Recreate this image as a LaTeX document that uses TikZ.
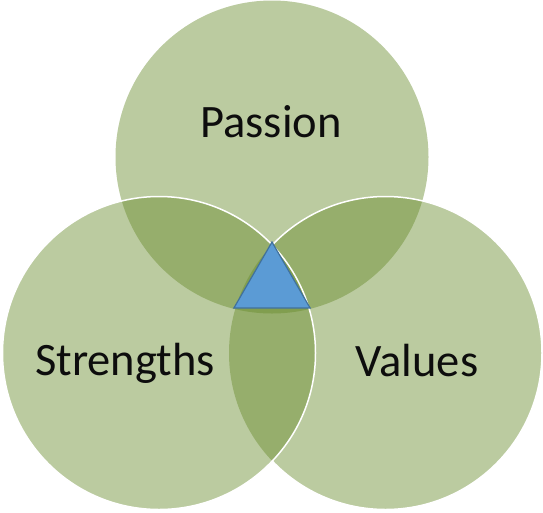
\documentclass[tikz,border=0pt]{standalone}
\usepackage{fontspec}
\setmainfont{Carlito}
\usetikzlibrary{positioning,shapes.geometric}
\definecolor{venn}{RGB}{104,139,44}
\definecolor{tri}{RGB}{91,155,213}
\definecolor{tririm}{RGB}{65,113,156}
\tikzset{
	ringnode/.style={circle, fill=venn, fill opacity=0.45, minimum size=313pt, inner sep=0pt},
	rimnode/.style={circle, draw=white, line width=1.5pt, minimum size=313pt, inner sep=0pt},
	wordnode/.style={anchor=base, font=\fontsize{46.5}{52}\selectfont, text=black!95}
}
\begin{document}
\begin{tikzpicture}[x=1pt, y=-1pt]
		\useasboundingbox (0,0) rectangle (543,512);
		\node[ringnode] at (272,157) (p) {};
		\node[ringnode] at (159,353) (s) {};
		\node[ringnode] at (385.5,353) (v) {};
		
		% white rims
		\node[rimnode] at (s) {};
		\begin{scope}[even odd rule]
			\clip (-10,-10) rectangle (553,522) (s.center) circle (156.5pt);
			\node[rimnode] at (v) {};
		\end{scope}
		
		\node[regular polygon, regular polygon sides=3, minimum size=88pt, inner sep=0pt,
			fill=tri, draw=tririm, line width=1.2pt] at (272,286) (t) {};
		
		\node[wordnode] at (271,137) (pt) {Passion};
		\node[wordnode] at (125,375) (st) {Strengths};
		\node[wordnode] at (417,376) (vt) {Values};
	\end{tikzpicture}
\end{document}
